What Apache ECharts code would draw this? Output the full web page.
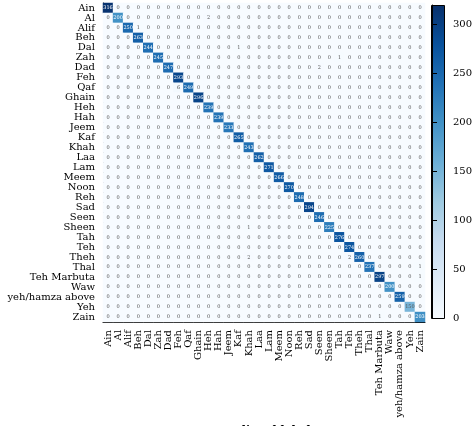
<!DOCTYPE html>
<html><head><meta charset="utf-8">
<script src="https://cdn.jsdelivr.net/npm/echarts@6/dist/echarts.min.js"></script>
<style>html,body{margin:0;background:#fff}#c{width:474px;height:426px}</style>
</head><body><div id="c"></div>
<script>
// class labels
var labels = ['Ain','Al','Alif','Beh','Dal','Zah','Dad','Feh','Qaf','Ghain','Heh','Hah','Jeem','Kaf','Khah','Laa','Lam','Meem','Noon','Reh','Sad','Seen','Sheen','Tah','Teh','Theh','Thal','Teh Marbuta','Waw','yeh/hamza above','Yeh','Zain'];
// diagonal counts (correct predictions)
var diagonal = [316,200,250,263,244,245,247,293,249,296,239,239,233,265,243,262,271,266,270,248,294,246,225,276,274,260,237,297,200,259,150,203];
// off-diagonal errors: [true index, predicted index, count]
var errors = [[1,10,2],[2,3,1],[4,13,1],[5,23,1],[6,21,2],[8,7,6],[22,14,1],[25,14,2],[25,24,2],[26,31,1],[27,31,1],[31,27,1]];
var colorTicks = [0,50,100,150,200,250,300];

(function () {
  var chart = echarts.init(document.getElementById('c'));
  var n = labels.length;
  var m = [];
  for (var i = 0; i < n; i++) { m.push([]); for (var j = 0; j < n; j++) m[i].push(i === j ? diagonal[i] : 0); }
  errors.forEach(function (e) { m[e[0]][e[1]] = e[2]; });
  var data = [];
  for (var i = 0; i < n; i++) for (var j = 0; j < n; j++) {
    var d = [j, i, m[i][j]];
    data.push(d[2] > 160 ? { value: d, label: { color: '#fff' } } : d);
  }
  var font = 'DejaVu Serif';
  var blues = ['#f7fbff','#deebf7','#c6dbef','#9ecae1','#6baed6','#4292c6','#2171b5','#08519c','#08306b'];
  chart.setOption({
    animation: false,
    textStyle: { fontFamily: font },
    grid: [
      { left: 103, right: 49, top: 3, bottom: 104, outerBoundsMode: 'none' },
      { right: 29, width: 13, top: 5, bottom: 108, outerBoundsMode: 'none' }
    ],
    xAxis: [{
      type: 'category', data: labels, name: 'Predicted label', nameLocation: 'middle', nameGap: 94,
      nameTextStyle: { fontFamily: font, fontWeight: 'bold', fontSize: 11, color: '#000' },
      axisLabel: { rotate: 90, fontSize: 10, color: '#000', interval: 0, fontFamily: font },
      axisLine: { lineStyle: { color: '#000' } }, axisTick: { alignWithLabel: true, lineStyle: { color: '#000' } }
    }, { gridIndex: 1, type: 'value', show: false }],
    yAxis: [{
      type: 'category', data: labels, inverse: true, name: 'True label', nameLocation: 'middle', nameGap: 88,
      nameTextStyle: { fontFamily: font, fontWeight: 'bold', fontSize: 11, color: '#000' },
      axisLabel: { fontSize: 10, color: '#000', interval: 0, fontFamily: font },
      axisLine: { lineStyle: { color: '#000' } }, axisTick: { alignWithLabel: true, lineStyle: { color: '#000' } }
    }, { gridIndex: 1, type: 'value', min: 0, max: 320, interval: 50, position: 'right',
      axisLabel: { fontSize: 10, color: '#000', fontFamily: font, formatter: function (v) { return colorTicks.indexOf(v) >= 0 ? v : ''; } },
      axisLine: { show: true, lineStyle: { color: '#000' } }, axisTick: { show: true, lineStyle: { color: '#000' } }, splitLine: { show: false } }],
    visualMap: { min: 0, max: 320, show: false, seriesIndex: 0, inRange: { color: blues } },
    graphic: [{
      type: 'rect', right: 29, top: 5, z: -1,
      shape: { width: 13, height: 313 },
      style: { fill: new echarts.graphic.LinearGradient(0, 1, 0, 0, blues.map(function (c, k) { return { offset: k / (blues.length - 1), color: c }; })),
        stroke: '#000', lineWidth: 1 }
    }],
    series: [{
      type: 'heatmap', data: data,
      label: { show: true, fontSize: 5, fontFamily: font, color: '#555',
        formatter: function (p) { return p.value[2]; } },
      itemStyle: { borderWidth: 0 }
    }]
  });
})();
</script></body></html>
